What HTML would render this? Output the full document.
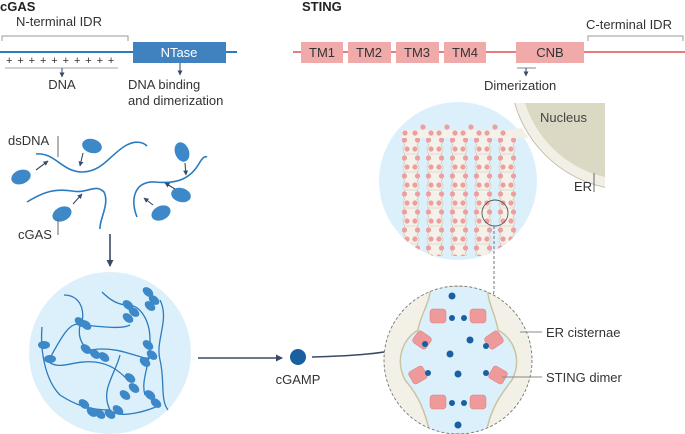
<!DOCTYPE html>
<html><head><meta charset="utf-8"><style>
html,body{margin:0;padding:0;background:#fff;}
svg{display:block;font-family:"Liberation Sans",sans-serif;}
</style></head><body>
<svg width="685" height="434" viewBox="0 0 685 434" xmlns="http://www.w3.org/2000/svg">
<defs>
<marker id="ah" markerWidth="8" markerHeight="8" refX="6" refY="4" orient="auto" markerUnits="userSpaceOnUse"><path d="M0,0.5 L7,4 L0,7.5 Z" fill="#3a4a66"/></marker>
<marker id="as" markerWidth="6" markerHeight="6" refX="4.5" refY="3" orient="auto" markerUnits="userSpaceOnUse"><path d="M0,0.5 L5,3 L0,5.5 Z" fill="#3a4a66"/></marker>
<pattern id="lat" x="402" y="136" width="24" height="18" patternUnits="userSpaceOnUse">
<path d="M3,0 Q-1,4.5 3,9 Q-1,13.5 3,18 L15,18 Q19,13.5 15,9 Q19,4.5 15,0 Z" fill="#f4f1ea" stroke="#c9c6b4" stroke-width="0.6"/>
<circle cx="2.5" cy="4" r="2.6" fill="#ee9e9e"/><circle cx="15.5" cy="4" r="2.6" fill="#ee9e9e"/>
<circle cx="5" cy="13" r="2.6" fill="#ee9e9e"/><circle cx="13" cy="13" r="2.6" fill="#ee9e9e"/>
</pattern>
<clipPath id="c1"><circle cx="458" cy="181" r="79"/></clipPath>
<clipPath id="c2"><circle cx="458" cy="360" r="74"/></clipPath>
<clipPath id="nuc"><rect x="440" y="103" width="165" height="120"/></clipPath>
</defs>

<!-- cGAS header -->
<text x="0" y="11" font-size="13" font-weight="bold" fill="#222">cGAS</text>
<text x="16" y="26" font-size="13" fill="#333">N-terminal IDR</text>
<path d="M2,41 V36 H128 V41" fill="none" stroke="#999" stroke-width="1"/>
<line x1="0" y1="52" x2="237" y2="52" stroke="#2b7bbf" stroke-width="2"/>
<rect x="133" y="42" width="93" height="21" fill="#3f82bf"/>
<text x="179" y="57" font-size="13" fill="#fff" text-anchor="middle">NTase</text>
<text x="6" y="64" font-size="11" fill="#333" letter-spacing="4.9">++++++++++</text>
<line x1="5" y1="68" x2="118" y2="68" stroke="#888" stroke-width="0.8"/>
<line x1="62" y1="68" x2="62" y2="77" stroke="#3a4a66" marker-end="url(#as)"/>
<text x="62" y="89" font-size="13" fill="#333" text-anchor="middle">DNA</text>
<line x1="180" y1="63" x2="180" y2="75" stroke="#3a4a66" marker-end="url(#as)"/>
<text x="128" y="89" font-size="13" fill="#333">DNA binding</text>
<text x="128" y="105" font-size="13" fill="#333">and dimerization</text>

<!-- STING header -->
<text x="302" y="11" font-size="13" font-weight="bold" fill="#222">STING</text>
<text x="586" y="29" font-size="13" fill="#333">C-terminal IDR</text>
<path d="M588,41 V36 H683 V41" fill="none" stroke="#999"/>
<line x1="293" y1="52" x2="685" y2="52" stroke="#e87c7c" stroke-width="2"/>
<g fill="#f1aaaa">
<rect x="301" y="42" width="42" height="21"/><rect x="348" y="42" width="43" height="21"/>
<rect x="396" y="42" width="43" height="21"/><rect x="444" y="42" width="42" height="21"/>
<rect x="516" y="42" width="68" height="21"/></g>
<g font-size="13" fill="#333" text-anchor="middle">
<text x="322" y="57">TM1</text><text x="369" y="57">TM2</text><text x="417" y="57">TM3</text><text x="465" y="57">TM4</text><text x="550" y="57">CNB</text></g>
<line x1="517" y1="68" x2="536" y2="68" stroke="#888"/>
<line x1="526" y1="68" x2="526" y2="76" stroke="#3a4a66" marker-end="url(#as)"/>
<text x="484" y="90" font-size="13" fill="#333">Dimerization</text>

<!-- dsDNA / cGAS free -->
<text x="8" y="145" font-size="13" fill="#333">dsDNA</text>
<line x1="58" y1="136" x2="58" y2="157" stroke="#666"/>
<g fill="none" stroke="#2b7bbf" stroke-width="1.6">
<path d="M36,154 C55,152 62,172 82,172 C102,172 110,155 125,146 C135,140 143,142 147,146"/>
<path d="M27,202 C40,194 52,188 72,191 C88,194 95,183 104,192 C110,204 99,220 100,229"/>
<path d="M137,217 C130,200 134,181 155,182 C176,184 190,180 200,162 C203,157 205,156 207,157"/>
</g>
<g fill="#3d88c8">
<ellipse cx="21" cy="177" rx="10" ry="7" transform="rotate(-20 21 177)"/>
<ellipse cx="92" cy="146" rx="10" ry="7" transform="rotate(15 92 146)"/>
<ellipse cx="182" cy="152" rx="7" ry="10" transform="rotate(-20 182 152)"/>
<ellipse cx="181" cy="195" rx="10" ry="7" transform="rotate(15 181 195)"/>
<ellipse cx="161" cy="213" rx="10" ry="7" transform="rotate(-25 161 213)"/>
<ellipse cx="62" cy="214" rx="10" ry="7" transform="rotate(-25 62 214)"/>
</g>
<g stroke="#3a4a66" stroke-width="1.1">
<line x1="36" y1="170" x2="48" y2="161" marker-end="url(#as)"/>
<line x1="83" y1="153" x2="80" y2="166" marker-end="url(#as)"/>
<line x1="185" y1="163" x2="186" y2="175" marker-end="url(#as)"/>
<line x1="175" y1="189" x2="165" y2="183" marker-end="url(#as)"/>
<line x1="153" y1="205" x2="144" y2="198" marker-end="url(#as)"/>
<line x1="73" y1="204" x2="82" y2="194" marker-end="url(#as)"/>
</g>
<text x="18" y="239" font-size="13" fill="#333">cGAS</text>
<line x1="58" y1="218" x2="58" y2="235" stroke="#666"/>

<!-- arrow down -->
<line x1="110" y1="234" x2="110" y2="266" stroke="#3a4a66" stroke-width="1.6" marker-end="url(#ah)"/>

<!-- condensate -->
<circle cx="110" cy="353" r="81" fill="#dcf0fb"/>
<g fill="none" stroke="#2b7bbf" stroke-width="1.3">
<path d="M64,295 C85,295 85,320 80,325 C78,335 80,345 90,350 C120,345 140,360 150,358"/>
<path d="M102,292 C110,300 118,305 128,305 C140,305 150,320 150,340 C152,360 140,380 145,395"/>
<path d="M42,327 C40,350 45,380 60,395 C75,405 90,410 110,410"/>
<path d="M50,358 C60,340 70,320 80,325 C100,326 120,330 130,325"/>
<path d="M120,355 C115,375 100,390 110,410 C120,420 150,410 160,405"/>
<path d="M160,300 C170,320 155,340 160,360 C165,380 160,400 168,410"/>
<path d="M46,360 C60,372 70,360 95,362 C110,364 118,370 128,380"/>
</g>
<g fill="#3d88c8">
<ellipse cx="80" cy="322" rx="6" ry="4" transform="rotate(40 80 322)"/><ellipse cx="86" cy="325" rx="6" ry="4" transform="rotate(40 86 325)"/>
<ellipse cx="128" cy="305" rx="6" ry="4" transform="rotate(40 128 305)"/><ellipse cx="134" cy="312" rx="6" ry="4" transform="rotate(40 134 312)"/><ellipse cx="128" cy="318" rx="6" ry="4" transform="rotate(40 128 318)"/>
<ellipse cx="148" cy="292" rx="6" ry="4" transform="rotate(40 148 292)"/><ellipse cx="154" cy="300" rx="6" ry="4" transform="rotate(40 154 300)"/><ellipse cx="150" cy="306" rx="6" ry="4" transform="rotate(40 150 306)"/>
<ellipse cx="44" cy="345" rx="6" ry="4"/><ellipse cx="50" cy="359" rx="6" ry="4"/>
<ellipse cx="86" cy="349" rx="6" ry="4" transform="rotate(40 86 349)"/><ellipse cx="95" cy="354" rx="6" ry="4" transform="rotate(40 95 354)"/><ellipse cx="104" cy="357" rx="6" ry="4" transform="rotate(40 104 357)"/>
<ellipse cx="148" cy="345" rx="6" ry="4" transform="rotate(40 148 345)"/><ellipse cx="152" cy="355" rx="6" ry="4" transform="rotate(40 152 355)"/><ellipse cx="145" cy="362" rx="6" ry="4" transform="rotate(40 145 362)"/>
<ellipse cx="130" cy="378" rx="6" ry="4" transform="rotate(40 130 378)"/><ellipse cx="134" cy="388" rx="6" ry="4" transform="rotate(40 134 388)"/><ellipse cx="125" cy="395" rx="6" ry="4" transform="rotate(40 125 395)"/>
<ellipse cx="150" cy="395" rx="6" ry="4" transform="rotate(40 150 395)"/><ellipse cx="156" cy="403" rx="6" ry="4" transform="rotate(40 156 403)"/>
<ellipse cx="84" cy="404" rx="6" ry="4" transform="rotate(40 84 404)"/><ellipse cx="92" cy="412" rx="6" ry="4" transform="rotate(40 92 412)"/><ellipse cx="100" cy="414" rx="6" ry="4" transform="rotate(40 100 414)"/><ellipse cx="110" cy="414" rx="6" ry="4" transform="rotate(40 110 414)"/><ellipse cx="118" cy="410" rx="6" ry="4" transform="rotate(40 118 410)"/>
</g>

<!-- arrow to cGAMP -->
<line x1="198" y1="358" x2="282" y2="358" stroke="#3a4a66" stroke-width="1.6" marker-end="url(#ah)"/>
<circle cx="298" cy="357" r="8" fill="#1a5fa0"/>
<text x="298" y="384" font-size="13" fill="#333" text-anchor="middle">cGAMP</text>
<path d="M312,357 C350,356 385,354 413,346" fill="none" stroke="#3a4a66" stroke-width="1.6" marker-end="url(#ah)"/>

<!-- nucleus / ER -->
<g clip-path="url(#nuc)">
<circle cx="630" cy="70" r="120" fill="#f2efe6" stroke="#b9b6a6" stroke-width="0.8"/>
<circle cx="630" cy="70" r="110" fill="#dbd8c3"/>
</g>
<text x="540" y="122" font-size="13" fill="#444">Nucleus</text>
<text x="574" y="191" font-size="13" fill="#333">ER</text>
<line x1="594" y1="173" x2="594" y2="192" stroke="#666"/>

<!-- lattice circle -->
<circle cx="458" cy="181" r="79" fill="#dcf0fb"/>
<g clip-path="url(#c1)">
<rect x="402" y="136" width="114" height="120" fill="url(#lat)"/>
<rect x="402" y="130" width="112" height="8" fill="#f4f1ea"/>
<g fill="#ee9e9e">
<circle cx="423" cy="127" r="2.6"/><circle cx="447" cy="127" r="2.6"/><circle cx="471" cy="127" r="2.6"/><circle cx="495" cy="127" r="2.6"/>
<circle cx="405" cy="133" r="2.6"/><circle cx="415" cy="133" r="2.6"/><circle cx="431" cy="133" r="2.6"/><circle cx="439" cy="133" r="2.6"/><circle cx="455" cy="133" r="2.6"/><circle cx="463" cy="133" r="2.6"/><circle cx="479" cy="133" r="2.6"/><circle cx="487" cy="133" r="2.6"/><circle cx="503" cy="133" r="2.6"/>
</g>
</g>
<path d="M510,130 L522,128 L528,138 L512,138 Z" fill="#f2efe6"/>
<circle cx="495" cy="213" r="13" fill="none" stroke="#555" stroke-width="0.9"/>
<path d="M494,226 V290 Q494,298 485,300" fill="none" stroke="#666" stroke-width="0.9" stroke-dasharray="3,2"/>

<!-- zoomed ER cisternae -->
<circle cx="458" cy="360" r="74" fill="#f3f0e8"/>
<g clip-path="url(#c2)">
<path d="M430,286 C432,300 420,315 418,330 C402,340 395,360 405,380 C418,395 425,410 430,434 L486,434 C490,410 500,395 512,380 C522,360 515,340 498,330 C496,315 486,300 488,286 Z" fill="#dcf0fb" stroke="#c8c6a0" stroke-width="1.5"/>
</g>
<circle cx="458" cy="360" r="74" fill="none" stroke="#777" stroke-width="0.9" stroke-dasharray="3,2"/>
<g fill="#ef9a9a" stroke="#d97c7c" stroke-width="0.5">
<rect x="430" y="309" width="16" height="14" rx="3"/><rect x="470" y="309" width="16" height="14" rx="3"/>
<rect x="430" y="395" width="16" height="14" rx="3"/><rect x="470" y="395" width="16" height="14" rx="3"/>
<rect x="414" y="333" width="16" height="14" rx="3" transform="rotate(35 422 340)"/><rect x="486" y="333" width="16" height="14" rx="3" transform="rotate(-35 494 340)"/>
<rect x="410" y="368" width="16" height="14" rx="3" transform="rotate(-30 418 375)"/><rect x="490" y="368" width="16" height="14" rx="3" transform="rotate(30 498 375)"/>
</g>
<g fill="#1a5fa0">
<circle cx="452" cy="318" r="3"/><circle cx="464" cy="318" r="3"/><circle cx="452" cy="403" r="3"/><circle cx="464" cy="403" r="3"/>
<circle cx="452" cy="296" r="3.5"/><circle cx="470" cy="340" r="3.5"/><circle cx="450" cy="354" r="3.5"/><circle cx="458" cy="374" r="3.5"/><circle cx="458" cy="425" r="3.5"/>
<circle cx="425" cy="344" r="3"/><circle cx="486" cy="346" r="3"/><circle cx="428" cy="373" r="3"/><circle cx="486" cy="373" r="3"/>
</g>
<line x1="520" y1="332" x2="542" y2="332" stroke="#888"/>
<text x="546" y="337" font-size="13" fill="#333">ER cisternae</text>
<line x1="502" y1="377" x2="542" y2="377" stroke="#888"/>
<text x="546" y="382" font-size="13" fill="#333">STING dimer</text>
</svg>
</body></html>
